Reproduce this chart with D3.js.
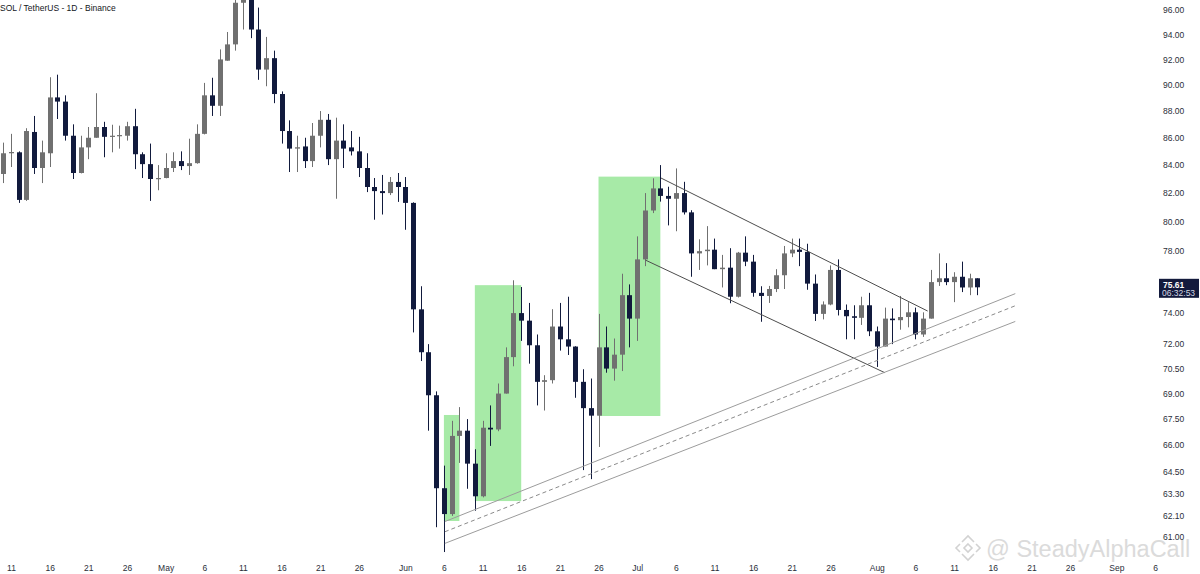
<!DOCTYPE html>
<html><head><meta charset="utf-8">
<script src="https://cdn.jsdelivr.net/npm/d3@7"></script>
<style>html,body{margin:0;padding:0;background:#fff;overflow:hidden}svg{display:block}</style>
</head><body><svg id="c" width="1200" height="574"></svg>
<script>
// ---------- data ----------
const title = "SOL / TetherUS - 1D - Binance";
const startDate = "2024-04-10";
const open  = [83.36,84.86,84.93,81.52,86.43,83.79,84.86,89.04,88.72,86.15,83.43,85.29,86.0,86.8,86.07,86.15,86.15,86.86,84.79,84.07,83.0,83.07,83.79,84.29,83.93,84.14,86.29,89.2,88.4,91.9,93.2,96.6,96.9,94.4,91.2,92.1,89.3,86.5,85.2,85.36,84.29,86.15,87.34,84.43,85.79,85.29,85.0,83.79,82.43,82.14,82.0,82.79,82.43,81.31,74.19,71.5,68.9,63.6,62.2,66.53,66.83,64.96,63.16,67.0,66.9,69.0,71.2,73.95,73.47,71.93,69.7,69.8,73.1,72.3,71.85,69.7,68.14,67.7,71.8,70.5,71.35,75.1,73.6,77.45,80.78,82.33,81.8,81.6,82.0,80.65,77.85,78.0,78.1,76.8,76.9,75.0,77.9,77.3,75.25,75.05,75.5,76.4,77.85,78.1,77.95,75.85,73.9,74.5,76.75,74.15,73.75,73.65,74.45,72.8,71.85,73.6,73.5,73.7,74.0,72.6,73.6,75.95,76.2,75.95,76.3,75.6,76.2];
const high  = [85.64,86.29,85.0,86.71,87.63,85.79,90.6,90.8,89.2,87.0,86.15,86.8,89.36,87.19,86.97,86.9,87.19,88.17,84.93,85.57,84.0,84.86,84.93,85.0,85.93,87.0,90.16,90.56,92.8,94.2,97.0,97.5,97.2,96.2,93.8,92.7,89.5,87.3,86.15,86.0,87.1,88.0,87.78,87.5,87.0,86.5,86.07,84.86,83.07,83.29,83.14,83.43,83.14,81.35,75.68,72.0,69.13,64.85,67.4,68.2,67.5,65.77,67.4,68.3,69.6,71.8,76.07,75.63,74.6,72.6,70.1,74.2,74.6,75.0,71.87,70.46,69.9,73.9,73.1,72.35,76.5,75.8,79.0,82.0,83.05,84.0,82.45,83.76,82.8,80.8,78.8,79.7,78.85,77.75,78.2,77.95,79.0,77.75,75.68,75.7,76.8,78.35,78.85,78.85,78.5,76.45,74.7,77.05,77.45,74.5,74.45,75.0,75.25,73.1,74.3,74.25,75.05,74.65,74.3,74.0,76.75,77.85,77.2,76.6,77.3,76.5,76.2];
const low   = [82.71,83.86,81.31,81.45,83.36,82.71,83.86,87.4,85.79,83.0,83.4,84.43,86.0,84.57,84.93,85.2,85.79,83.71,83.07,81.45,82.2,83.05,83.5,83.64,83.29,84.1,86.25,87.63,87.63,91.9,92.7,94.4,93.7,90.4,89.9,88.6,85.57,83.5,83.5,83.79,83.86,85.29,84.0,81.6,83.79,84.7,83.14,82.07,80.14,80.5,81.86,81.38,79.45,72.73,70.96,66.83,61.5,60.2,62.1,65.0,63.57,62.38,63.1,65.96,66.8,69.0,70.64,72.2,70.8,68.3,68.0,69.6,71.6,71.33,68.75,64.6,64.1,65.9,70.25,69.77,70.35,71.8,72.2,77.0,80.6,81.4,79.75,79.35,80.5,76.3,76.75,77.05,76.8,75.6,74.58,74.95,77.0,75.0,73.4,74.6,75.3,75.5,77.6,77.0,75.45,73.45,73.55,74.45,73.8,72.3,72.3,73.2,72.5,70.6,71.85,72.0,72.9,73.05,72.3,72.45,73.6,75.7,75.75,74.65,75.3,75.1,75.1];
const close = [84.86,84.95,81.52,86.5,83.79,84.93,89.04,88.72,86.15,83.43,85.29,86.0,86.8,86.07,86.15,86.2,86.86,84.79,84.07,83.0,83.07,83.79,84.29,83.93,84.14,86.29,89.2,88.4,92.0,93.2,96.6,96.9,94.4,91.2,92.1,89.3,86.5,85.2,85.3,84.29,86.15,87.34,84.43,85.79,85.2,85.0,83.79,82.43,82.14,82.0,82.79,82.43,81.31,74.19,71.5,68.9,63.6,62.2,66.53,66.83,64.96,63.16,67.0,66.9,69.0,71.2,73.95,73.47,71.93,69.7,69.8,73.1,72.3,71.85,69.7,68.14,67.7,71.8,70.5,71.35,75.1,73.6,77.45,80.78,82.33,81.8,81.6,82.0,80.65,77.85,78.0,78.1,76.8,76.9,75.0,77.9,77.3,75.25,75.05,75.5,76.4,77.85,78.1,77.95,75.85,73.9,74.5,76.75,74.15,73.75,73.65,74.45,72.8,71.85,73.6,73.5,73.7,74.0,72.6,73.6,75.95,76.2,75.95,76.3,75.6,76.2,75.61];

const priceTicks = [96,94,92,90,88,86,84,82,80,78,76,74,72,70.5,69,67.5,66,64.5,63.3,62.1,61];
const dateTicks = ["2024-04-11","2024-04-16","2024-04-21","2024-04-26","2024-05-01","2024-05-06","2024-05-11","2024-05-16","2024-05-21","2024-05-26","2024-06-01","2024-06-06","2024-06-11","2024-06-16","2024-06-21","2024-06-26","2024-07-01","2024-07-06","2024-07-11","2024-07-16","2024-07-21","2024-07-26","2024-08-01","2024-08-06","2024-08-11","2024-08-16","2024-08-21","2024-08-26","2024-09-01","2024-09-06"];
const dateTickLabels = ["11","16","21","26","May","6","11","16","21","26","Jun","6","11","16","21","26","Jul","6","11","16","21","26","Aug","6","11","16","21","26","Sep","6"];

const zoneFrom   = ["2024-06-06","2024-06-10","2024-06-26"];
const zoneTo     = ["2024-06-08","2024-06-16","2024-07-04"];
const zoneTop    = [67.74,75.75,83.17];
const zoneBottom = [61.83,62.9,67.68];

// trend lines
const lineFromTime  = ["2024-07-04T02:00Z","2024-07-02T02:00Z","2024-06-06T03:00Z","2024-06-06T03:00Z","2024-06-06T03:00Z"];
const lineFromPrice = [83.07,77.4,61.8,61.26,60.65];
const lineToTime    = ["2024-08-07T14:00Z","2024-08-02T01:00Z","2024-08-18T22:00Z","2024-08-18T22:00Z","2024-08-18T22:00Z"];
const lineToPrice   = [74.08,70.25,75.2,74.42,73.42];
const lineKind      = ["dark","dark","light","dashed","light"];

const lastPrice = 75.61;
const countdown = "06:32:53";
const watermark = "@ SteadyAlphaCall";

// ---------- chart ----------
const W = 1200, H = 574;
const svg = d3.select("#c");
const parse = d3.isoParse;
const t0 = parse(startDate + "T00:00Z");
const dates = close.map((_, i) => d3.utcDay.offset(t0, i));
const candles = dates.map((d, i) => ({d, o: open[i], h: high[i], l: low[i], c: close[i]}));

const plotRight = 1146;
const x = d3.scaleUtc()
  .domain([t0, d3.utcDay.offset(t0, 148)])
  .range([3.3, 3.3 + 148 * 7.73]);
const y = d3.scaleLog().domain([61, 96]).range([536.7, 10]);

const FONT = "'Liberation Sans', Arial, sans-serif";
const NAVY = "#111a3d", GRAY = "#707070";

svg.append("rect").attr("width", W).attr("height", H).attr("fill", "#fff");
svg.append("defs").append("clipPath").attr("id", "plot")
  .append("rect").attr("x", 0).attr("y", 0).attr("width", plotRight).attr("height", H);

const plot = svg.append("g").attr("clip-path", "url(#plot)");

// zones
plot.selectAll("rect.zone").data(zoneFrom.map((f, i) => ({f: parse(f + "T00:00Z"), t: parse(zoneTo[i] + "T00:00Z"), top: zoneTop[i], bot: zoneBottom[i]})))
  .join("rect").attr("class", "zone")
  .attr("x", d => x(d.f)).attr("width", d => x(d.t) - x(d.f))
  .attr("y", d => y(d.top)).attr("height", d => y(d.bot) - y(d.top))
  .attr("fill", "#a7eaa7");

// candles
const bw = 5;
const cg = plot.selectAll("g.c").data(candles).join("g").attr("class", "c");
cg.append("line")
  .attr("x1", d => Math.round(x(d.d)) + 0.5).attr("x2", d => Math.round(x(d.d)) + 0.5)
  .attr("y1", d => y(d.h)).attr("y2", d => y(d.l))
  .attr("stroke", d => d.c >= d.o ? GRAY : NAVY).attr("stroke-width", 1);
cg.append("rect")
  .attr("x", d => Math.round(x(d.d)) + 0.5 - bw / 2).attr("width", bw)
  .attr("y", d => y(Math.max(d.o, d.c)))
  .attr("height", d => Math.max(1.2, y(Math.min(d.o, d.c)) - y(Math.max(d.o, d.c))))
  .attr("fill", d => d.c >= d.o ? GRAY : NAVY);

// trend lines
const lines = lineKind.map((k, i) => ({k, x1: x(parse(lineFromTime[i])), y1: y(lineFromPrice[i]), x2: x(parse(lineToTime[i])), y2: y(lineToPrice[i])}));
plot.selectAll("line.tl").data(lines).join("line").attr("class", "tl")
  .attr("x1", d => d.x1).attr("y1", d => d.y1).attr("x2", d => d.x2).attr("y2", d => d.y2)
  .attr("stroke", d => d.k === "dark" ? "#4d4d4d" : (d.k === "dashed" ? "#8a8a8a" : "#9c9c9c"))
  .attr("stroke-width", 1)
  .attr("stroke-dasharray", d => d.k === "dashed" ? "4,3" : null);

// watermark
const wm = svg.append("g").attr("opacity", 0.75);
const lg = wm.append("g").attr("transform", "translate(968,548)").attr("fill", "none").attr("stroke", "#c4c4c4").attr("stroke-width", 1.6);
lg.append("path").attr("d", "M0,-4 L4,0 L0,4 L-4,0 Z");
lg.append("path").attr("d", "M-6,-6 L0,-12 L6,-6");
lg.append("path").attr("d", "M-6,6 L0,12 L6,6");
lg.append("path").attr("d", "M-8,-4 L-12,0 L-8,4");
lg.append("path").attr("d", "M8,-4 L12,0 L8,4");
wm.append("text").attr("x", 986).attr("y", 557).attr("font-family", FONT).attr("font-size", 23.5)
  .attr("fill", "#cfcfcf").text(watermark);

// x axis labels
const xAxis = d3.axisBottom(x).tickValues(dateTicks.map(s => parse(s + "T00:00Z")))
  .tickFormat((d, i) => dateTickLabels[i]).tickSize(0).tickPadding(0);
const xg = svg.append("g").attr("transform", "translate(0,565)").call(xAxis);
xg.select(".domain").remove();
xg.selectAll("text").attr("font-family", FONT).attr("font-size", 8.5).attr("fill", "#2a2e39").attr("dy", "0.35em").attr("y", 3);

// y axis labels
const yAxis = d3.axisRight(y).tickValues(priceTicks).tickFormat(d3.format(".2f")).tickSize(0).tickPadding(0);
const yg = svg.append("g").attr("transform", "translate(1163,0)").call(yAxis);
yg.select(".domain").remove();
yg.selectAll("text").attr("font-family", FONT).attr("font-size", 8.5).attr("fill", "#2a2e39");

// last price box
const ly = y(lastPrice);
svg.append("rect").attr("x", 1159).attr("y", ly - 8.5).attr("width", 40).attr("height", 19).attr("fill", "#131a3c");
svg.append("text").attr("x", 1163).attr("y", ly + 0.5).attr("font-family", FONT).attr("font-size", 8.5).attr("font-weight", "bold").attr("fill", "#fff").text(lastPrice.toFixed(2));
svg.append("text").attr("x", 1162).attr("y", ly + 8.5).attr("font-family", FONT).attr("font-size", 8.5).attr("fill", "#d6d9e4").text(countdown);

// title
svg.append("text").attr("x", 0).attr("y", 11).attr("font-family", FONT).attr("font-size", 8.5).attr("fill", "#131722").text(title);
</script></body></html>
